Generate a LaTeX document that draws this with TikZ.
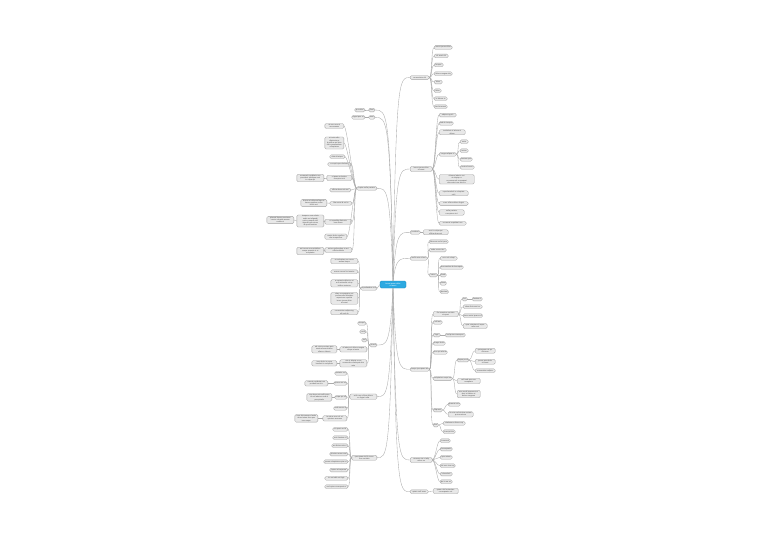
\documentclass[tikz,border=0pt]{standalone}
\usepackage{fontspec}
\setmainfont{Liberation Sans}
\definecolor{boxfill}{HTML}{E8E8E8}
\definecolor{boxdraw}{HTML}{A3A3A3}
\definecolor{linec}{HTML}{ABABAB}
\definecolor{txt}{HTML}{555555}
\definecolor{cfill}{HTML}{2DA9E1}
\definecolor{cdraw}{HTML}{1B8CC0}
\tikzset{
  box/.style={draw=boxdraw, fill=boxfill, line width=0.3pt, rounded corners=1.3pt,
    inner sep=0.7pt, minimum height=3.7pt, font=\fontsize{1.9}{2.25}\selectfont,
    text=txt, align=center},
  cbox/.style={box, draw=cdraw, fill=cfill, text=white, minimum width=26pt, minimum height=7pt},
  conn/.style={draw=linec, line width=0.35pt},
}
\newcommand\RN[5]{\node[box, anchor=west, minimum width=#4pt] (#1) at (#2,#3) {#5};}
\newcommand\LN[5]{\node[box, anchor=east, minimum width=#4pt] (#1) at (#2,#3) {#5};}
\newcommand\cR[2]{\draw[conn] (#1.east) .. controls +(3,0) and +(-3,0) .. (#2.west);}
\newcommand\cL[2]{\draw[conn] (#1.west) .. controls +(-3,0) and +(3,0) .. (#2.east);}
\newcommand\mRU[2]{\draw[conn] (393,281) .. controls (396,#2) and (399,#2) .. (#1.west);}
\newcommand\mRD[2]{\draw[conn] (393,288) .. controls (396,#2) and (399,#2) .. (#1.west);}
\newcommand\mLU[2]{\draw[conn] (393,281) .. controls (390,#2) and (387,#2) .. (#1.east);}
\newcommand\mLD[2]{\draw[conn] (393,288) .. controls (390,#2) and (387,#2) .. (#1.east);}
\begin{document}
\begin{tikzpicture}[x=1pt,y=-1pt]
\useasboundingbox[fill=white] (0,0) rectangle (768,543);

% ---------- nodes ----------
\node[cbox] (C) at (393,284.5) {lorem ipsum dolor\\sit amet};

% right side
\RN{R1}{410}{77.5}{19}{consectetur elit}
\RN{r1a}{434}{47.5}{18}{lorem ipsum dolor}
\RN{r1b}{434}{56}{14}{sit amet elit}
\RN{r1c}{434}{65}{9}{tempor}
\RN{r1d}{434}{73.7}{18}{dolore magna aliq}
\RN{r1e}{434}{82}{8}{labor}
\RN{r1f}{434}{90.7}{7}{dolor}
\RN{r1g}{434}{98.7}{13}{ut labore et}
\RN{r1h}{434}{106.7}{13}{sed eiusmod}

\RN{R2}{410}{169}{22}{lorem ipsum dolor\\sit amet}
\RN{r2a}{439}{115}{17}{adipiscing elit}
\RN{r2b}{439}{123.3}{14}{sed do tempor}
\RN{r2c}{439}{132.3}{26}{incididunt ut labore et\\dolore}
\RN{r2d}{439}{154.3}{17}{magna aliqua ut}
\RN{r2da}{460}{141.7}{8}{enim}
\RN{r2db}{460}{150.7}{8}{minim}
\RN{r2dc}{460}{159.3}{12}{veniam quis}
\RN{r2dd}{460}{167.3}{14}{nostrud exerc}
\RN{r2e}{439}{179.3}{35}{ullamco laboris nisi\\ut aliquip ex\\ea commodo consequat\\duis aute irure dolor in}
\RN{r2f}{439}{193.3}{29}{reprehenderit in voluptate\\velit}
\RN{r2g}{439}{203.5}{29}{esse cillum dolore fugiat}
\RN{r2h}{439}{212.5}{25}{nulla pariatur\\excepteur sint}
\RN{r2i}{439}{223.3}{27}{occaecat cupidatat non}

\RN{R3}{410}{232.3}{10}{proident}
\RN{r3a}{423}{232.3}{25}{sunt in culpa qui\\officia deserunt}

\RN{R4}{410}{258.3}{17}{mollit anim id est}
\RN{r4a}{429}{241.7}{19}{laborum sed ut pers}
\RN{r4b}{429}{250}{17}{unde omnis iste}
\RN{r4c}{429}{275}{8}{natus}
\RN{r4ca}{440}{258.3}{17}{error sit volupt}
\RN{r4cb}{440}{267.3}{23}{accusantium doloremque}
\RN{r4cc}{440}{275}{6}{lauda}
\RN{r4cd}{440}{283.3}{6}{totam}
\RN{r4ce}{440}{291.7}{8}{aperiam}

\RN{R5}{410}{369.3}{19}{eaque ipsa quae ab}
\RN{r5a}{433}{314}{25}{illo inventore veritatis\\et quasi}
\RN{r5aa}{462}{299}{5}{arc}
\RN{r5aax}{472}{299}{10}{beatae vi}
\RN{r5ab}{463}{306.7}{19}{vitae dicta sunt ex}
\RN{r5ac}{463}{315.7}{19}{nemo enim ipsam vol}
\RN{r5ad}{463}{326}{24}{quia voluptas sit asper\\natur aut}
\RN{r5b}{433}{322.3}{9}{odit aut}
\RN{r5c}{433}{335}{7}{fugit}
\RN{r5ca}{445}{335}{20}{sed quia consequun}
\RN{r5d}{433}{343.3}{12}{magni dolor}
\RN{r5e}{433}{352.3}{14}{eos qui ratione}
\RN{r5f}{433}{378.5}{19}{voluptatem sequi ne}
\RN{r5fa}{457}{360}{11}{neque porro}
\RN{r5faa}{475}{350.7}{20}{quisquam est qui\\dolorem}
\RN{r5fab}{475}{361.7}{20}{ipsum quia dolor\\sit amet}
\RN{r5fac}{475}{370.7}{20}{consectetur adipisc}
\RN{r5fb}{457}{381}{23}{velit sed quia non\\numquam}
\RN{r5fc}{457}{394}{23}{eius modi tempora inci\\dunt ut labore et\\dolore magnam}
\RN{r5g}{433}{410}{9}{aliquam}
\RN{r5ga}{448}{404.3}{12}{quaerat volu}
\RN{r5gb}{448}{414.3}{25}{ut enim ad minima veniam\\quis nostrum}
\RN{r5h}{433}{425}{5}{exer}
\RN{r5ha}{443}{423.3}{22}{citationem ullam corp}
\RN{r5hb}{443}{431.7}{12}{suscipit lab}

\RN{R6}{410}{460}{22}{oriosam nisi ut aliq\\uid ex ea}
\RN{r6a}{440}{440.7}{10}{commodi}
\RN{r6b}{440}{449}{12}{consequatur}
\RN{r6c}{440}{457.3}{12}{quis autem}
\RN{r6d}{440}{465.7}{15}{vel eum iure rep}
\RN{r6e}{440}{474}{12}{rehenderit}
\RN{r6f}{440}{481.7}{12}{qui in ea vol}

\RN{R7}{410}{491.7}{18}{uptate velit esse}
\RN{r7a}{433}{491}{25}{quam nihil molestiae\\consequatur vel}

% left side
\LN{La}{375}{110}{6}{illum}
\LN{Laa}{365}{110}{10}{qui dolor}
\LN{Lb}{375}{117.3}{6}{eum}
\LN{Lba}{365}{117.3}{13}{fugiat quo vo}

\LN{L1}{377}{188.3}{20}{luptas nulla pariatur}
\LN{l1a}{344}{126}{19}{at vero eos et\\accusamus}
\LN{l1b}{344}{143}{19}{et iusto odio\\dignissimos\\ducimus qui blan\\ditiis praesentium\\voluptatum}
\LN{l1c}{345}{156.7}{15}{deleniti atque}
\LN{l1d}{351}{164.3}{23}{corrupti quos dolores}
\LN{l1e}{352}{178}{25}{et quas molestias\\excepturi sint}
\LN{l1ea}{324}{178}{27}{occaecati cupiditate non\\provident similique sunt\\in culpa qui}
\LN{l1f}{351}{190}{21}{officia deserunt mol}
\LN{l1g}{352}{203.3}{22}{litia animi id est la}
\LN{l1ga}{327}{203}{26}{borum et dolorum fuga et\\harum quidem rerum\\facilis est}
\LN{l1h}{352}{221.7}{27}{et expedita distinctio\\nam libero}
\LN{l1ha}{324}{221}{27}{tempore cum soluta\\nobis est eligendi\\optio cumque nihil\\impedit quo minus\\id quod maxime}
\LN{l1haa}{294}{220}{27}{placeat facere possimus\\omnis voluptas assum\\enda est}
\LN{l1i}{347}{236.7}{22}{omnis dolor repellen\\dus temporibus}
\LN{l1j}{352}{250}{27}{autem quibusdam et aut\\officiis debitis}
\LN{l1ja}{324}{251}{27}{aut rerum necessitatibus\\saepe eveniet ut et\\voluptates}

\LN{L2}{377}{288.3}{16}{repudiandae sint}
\LN{l2a}{358}{261}{27}{et molestiae non recus\\andae itaque}
\LN{l2b}{358}{271.7}{27}{earum rerum hic tenetur}
\LN{l2c}{358}{283.3}{27}{a sapiente delectus ut\\aut reiciendis volup\\tatibus maiores}
\LN{l2d}{358}{298.3}{27}{alias consequatur aut\\perferendis doloribus\\asperiores repellat\\lorem ipsum dolor\\sit amet}
\LN{l2e}{358}{312.3}{27}{consectetur adipiscing\\elit sed do}

\LN{L3}{377}{345}{7}{eiusm}
\LN{l3a}{366}{323.3}{8}{tempor}
\LN{l3b}{366}{331.7}{6}{incid}
\LN{l3c}{367}{340}{5}{unt}
\LN{l3d}{367}{349.3}{27}{ut labore et dolore magna\\aliqua ut enim}
\LN{l3da}{337}{349.3}{25}{ad minim veniam quis\\nostrud exercitation\\ullamco laboris}
\LN{l3e}{367}{363.3}{27}{nisi ut aliquip ex ea\\commodo consequat duis\\aute}
\LN{l3ea}{337}{363.3}{25}{irure dolor in repre\\henderit in voluptate}

\LN{L4}{377}{396.7}{27}{velit esse cillum dolore\\eu fugiat nulla}
\LN{l4a}{347}{373.3}{12}{pariatur exc}
\LN{l4b}{347}{383.3}{13}{epteur sint oc}
\LN{l4ba}{328}{383.3}{23}{caecat cupidatat non\\proident sunt in}
\LN{l4c}{347}{397.3}{12}{culpa qui off}
\LN{l4ca}{332}{397.3}{25}{icia deserunt mollit anim\\id est laborum sed ut\\perspiciatis}
\LN{l4d}{347}{408.3}{12}{unde omnis is}
\LN{l4e}{347}{418.3}{24}{te natus error sit vol\\uptatem accusan}
\LN{l4ea}{318}{418.3}{23}{tium doloremque lauda\\ntium totam rem aper\\iam eaque}

\LN{L5}{377}{457.7}{25}{ipsa quae ab illo inven\\tore veritatis}
\LN{l5a}{348}{429.3}{15}{et quasi archit}
\LN{l5b}{348}{437.7}{15}{ecto beatae vit}
\LN{l5c}{348}{445.7}{16}{ae dicta sunt ex}
\LN{l5d}{348}{454}{18}{plicabo nemo enim}
\LN{l5e}{348}{461.7}{24}{ipsam voluptatem quia vo}
\LN{l5f}{348}{470}{18}{luptas sit asperna}
\LN{l5g}{348}{478.3}{23}{tur aut odit aut fugit}
\LN{l5h}{348}{486.7}{23}{sed quia consequuntur}

% ---------- connectors ----------
\mRU{R1}{77.5} \mRU{R2}{169} \mRU{R3}{232.3} \mRU{R4}{258.3}
\mRD{R5}{369.3} \mRD{R6}{460} \mRD{R7}{491.7}
\mLU{La}{110} \mLU{Lb}{117.3} \mLU{L1}{188.3}
\draw[conn] (C.west) .. controls +(-1.5,0) and +(1.5,0) .. (L2.east);
\mLD{L3}{345} \mLD{L4}{396.7} \mLD{L5}{457.7}

\foreach \c in {r1a,r1b,r1c,r1d,r1e,r1f,r1g,r1h} {\cR{R1}{\c}}
\foreach \c in {r2a,r2b,r2c,r2d,r2e,r2f,r2g,r2h,r2i} {\cR{R2}{\c}}
\foreach \c in {r2da,r2db,r2dc,r2dd} {\cR{r2d}{\c}}
\cR{R3}{r3a}
\foreach \c in {r4a,r4b,r4c} {\cR{R4}{\c}}
\foreach \c in {r4ca,r4cb,r4cc,r4cd,r4ce} {\cR{r4c}{\c}}
\foreach \c in {r5a,r5b,r5c,r5d,r5e,r5f,r5g,r5h} {\cR{R5}{\c}}
\foreach \c in {r5aa,r5ab,r5ac,r5ad} {\cR{r5a}{\c}}
\cR{r5aa}{r5aax}
\cR{r5c}{r5ca}
\foreach \c in {r5fa,r5fb,r5fc} {\cR{r5f}{\c}}
\foreach \c in {r5faa,r5fab,r5fac} {\cR{r5fa}{\c}}
\foreach \c in {r5ga,r5gb} {\cR{r5g}{\c}}
\foreach \c in {r5ha,r5hb} {\cR{r5h}{\c}}
\foreach \c in {r6a,r6b,r6c,r6d,r6e,r6f} {\cR{R6}{\c}}
\cR{R7}{r7a}

\cL{La}{Laa} \cL{Lb}{Lba}
\foreach \c in {l1a,l1b,l1c,l1d,l1e,l1f,l1g,l1h,l1i,l1j} {\cL{L1}{\c}}
\cL{l1e}{l1ea} \cL{l1g}{l1ga} \cL{l1h}{l1ha} \cL{l1ha}{l1haa} \cL{l1j}{l1ja}
\foreach \c in {l2a,l2b,l2c,l2d,l2e} {\cL{L2}{\c}}
\foreach \c in {l3a,l3b,l3c,l3d,l3e} {\cL{L3}{\c}}
\cL{l3d}{l3da} \cL{l3e}{l3ea}
\foreach \c in {l4a,l4b,l4c,l4d,l4e} {\cL{L4}{\c}}
\cL{l4b}{l4ba} \cL{l4c}{l4ca} \cL{l4e}{l4ea}
\foreach \c in {l5a,l5b,l5c,l5d,l5e,l5f,l5g,l5h} {\cL{L5}{\c}}
\end{tikzpicture}
\end{document}
